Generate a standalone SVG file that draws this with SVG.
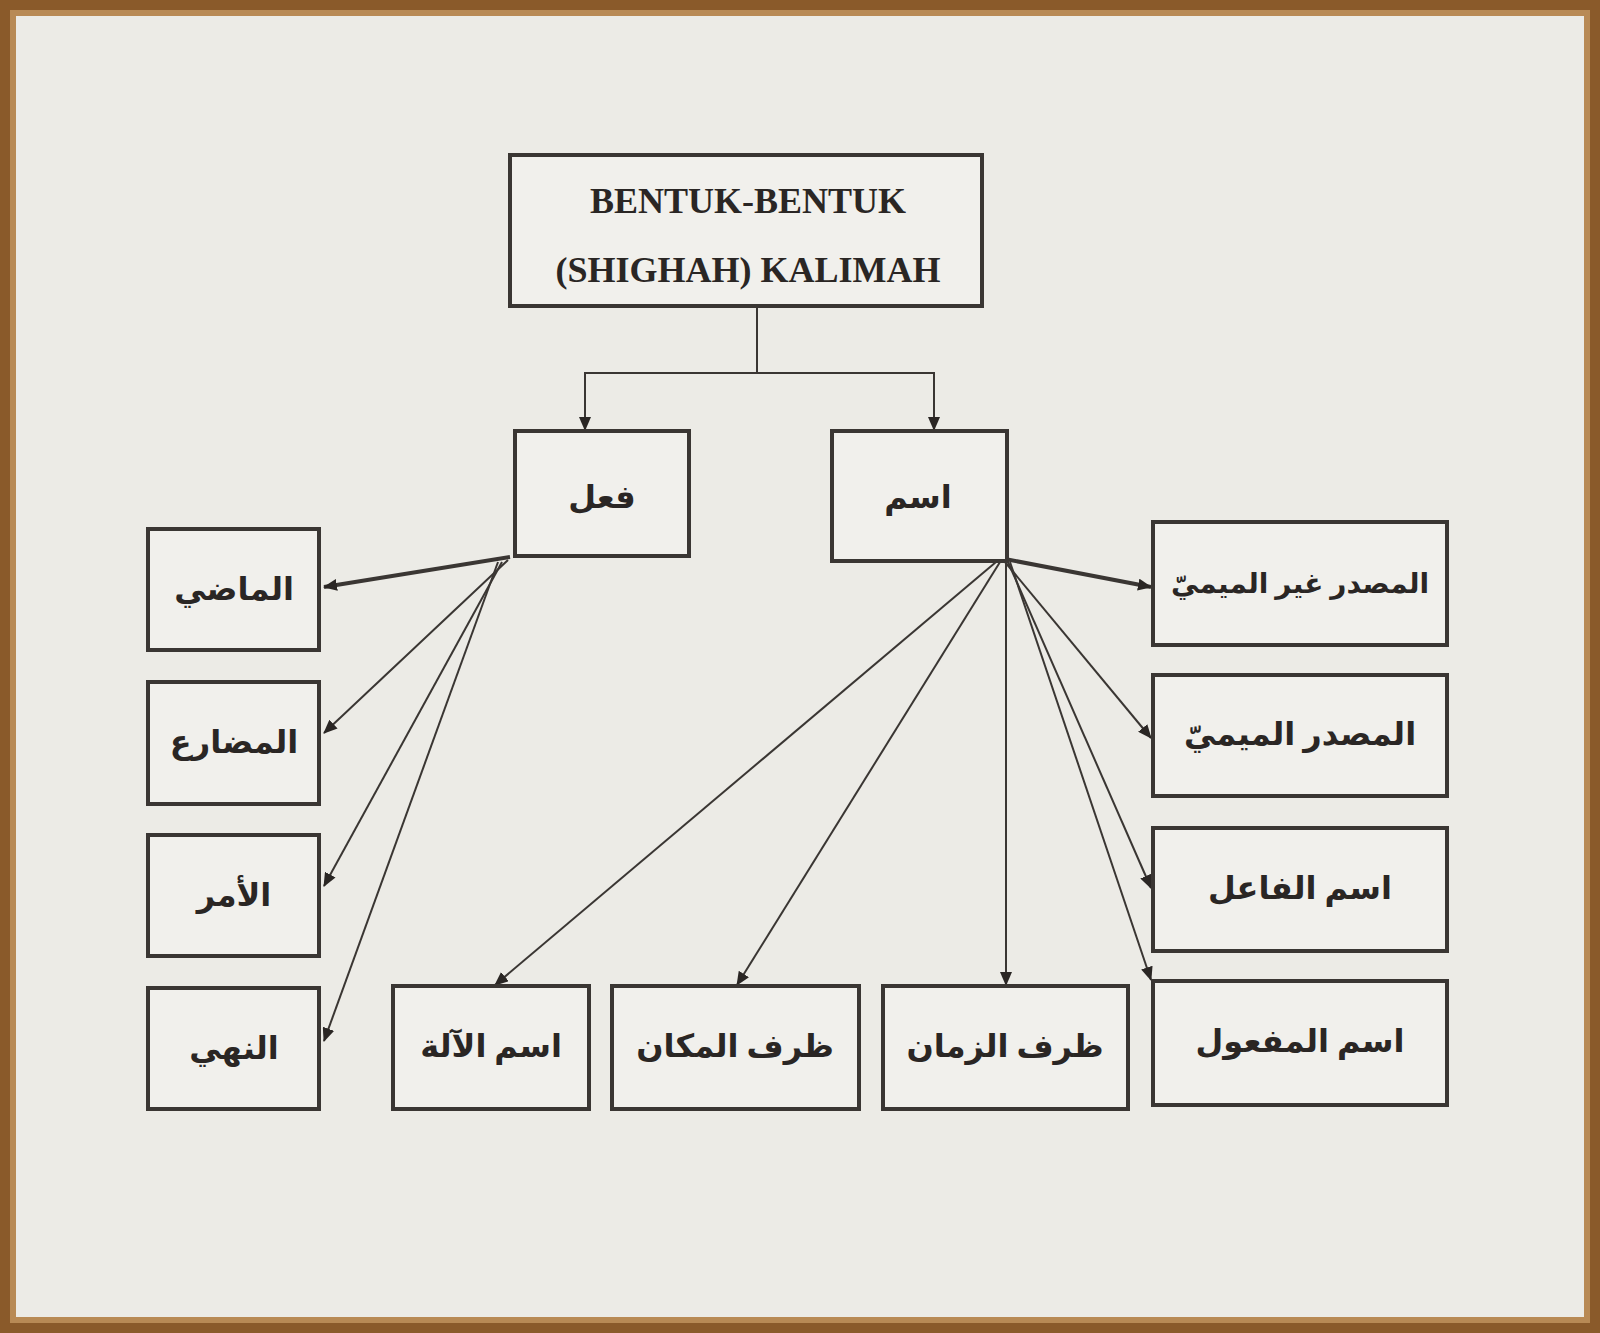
<svg xmlns="http://www.w3.org/2000/svg" width="1600" height="1333" viewBox="0 0 1600 1333">
<style>
.b{fill:#f1f0ec;stroke:#3a3633;stroke-width:4}
.t{font-family:"Liberation Serif","DejaVu Sans",serif;font-weight:bold;fill:#2a2624;text-anchor:middle}
.e{font-size:36px}
.a{font-size:32px}
.c{fill:none;stroke:#3a3633;stroke-width:2;marker-end:url(#ar)}
.k{stroke-width:4}
</style>
<defs>
<marker id="ar" viewBox="0 0 14 12" refX="13" refY="6" markerWidth="14" markerHeight="12" markerUnits="userSpaceOnUse" orient="auto">
<path d="M0,0 L14,6 L0,12 z" fill="#2a2624"/>
</marker>
</defs>
<rect x="0" y="0" width="1600" height="1333" fill="#8a5a2a"/>
<rect x="10" y="10" width="1580" height="1313" fill="#b88a55"/>
<rect x="16" y="16" width="1568" height="1301" fill="#ecebe6"/>
<g id="connectors">
<polyline class="c" points="757,306 757,373 585,373 585,430"/>
<polyline class="c" points="757,373 934,373 934,430"/>
<line class="c k" x1="510" y1="557" x2="324" y2="587"/>
<line class="c" x1="508" y1="560" x2="324" y2="733"/>
<line class="c" x1="502" y1="562" x2="324" y2="886"/>
<line class="c" x1="498" y1="562" x2="324" y2="1041"/>
<line class="c k" x1="1005" y1="559" x2="1151" y2="587"/>
<line class="c" x1="1005" y1="562" x2="1151" y2="738"/>
<line class="c" x1="1008" y1="562" x2="1151" y2="888"/>
<line class="c" x1="1010" y1="562" x2="1151" y2="980"/>
<line class="c" x1="1006" y1="562" x2="1006" y2="985"/>
<line class="c" x1="1000" y1="562" x2="737" y2="985"/>
<line class="c" x1="996" y1="562" x2="495" y2="985"/>
</g>
<g id="root"><rect class="b" x="510" y="155" width="472" height="151"/><text class="t e" x="748" y="213">BENTUK-BENTUK</text><text class="t e" x="748" y="282">(SHIGHAH) KALIMAH</text></g>
<g id="fil"><rect class="b" x="515" y="431" width="174" height="125"/><text class="t a" x="602" y="508">فعل</text></g>
<g id="ism"><rect class="b" x="832" y="431" width="175" height="130"/><text class="t a" x="918" y="508">اسم</text></g>
<g id="madhi"><rect class="b" x="148" y="529" width="171" height="121"/><text class="t a" x="234" y="600">الماضي</text></g>
<g id="mudhari"><rect class="b" x="148" y="682" width="171" height="122"/><text class="t a" x="234" y="753">المضارع</text></g>
<g id="amr"><rect class="b" x="148" y="835" width="171" height="121"/><text class="t a" x="234" y="906">الأمر</text></g>
<g id="nahy"><rect class="b" x="148" y="988" width="171" height="121"/><text class="t a" x="234" y="1059">النهي</text></g>
<g id="alah"><rect class="b" x="393" y="986" width="196" height="123"/><text class="t a" x="491" y="1057">اسم الآلة</text></g>
<g id="makan"><rect class="b" x="612" y="986" width="247" height="123"/><text class="t a" x="735" y="1057">ظرف المكان</text></g>
<g id="zaman"><rect class="b" x="883" y="986" width="245" height="123"/><text class="t a" x="1005" y="1057">ظرف الزمان</text></g>
<g id="ghairmimi"><rect class="b" x="1153" y="522" width="294" height="123"/><text class="t a" x="1300" y="593" style="font-size:28px">المصدر غير الميميّ</text></g>
<g id="mimi"><rect class="b" x="1153" y="675" width="294" height="121"/><text class="t a" x="1300" y="745">المصدر الميميّ</text></g>
<g id="fail"><rect class="b" x="1153" y="828" width="294" height="123"/><text class="t a" x="1300" y="899">اسم الفاعل</text></g>
<g id="maful"><rect class="b" x="1153" y="981" width="294" height="124"/><text class="t a" x="1300" y="1052">اسم المفعول</text></g>
</svg>
